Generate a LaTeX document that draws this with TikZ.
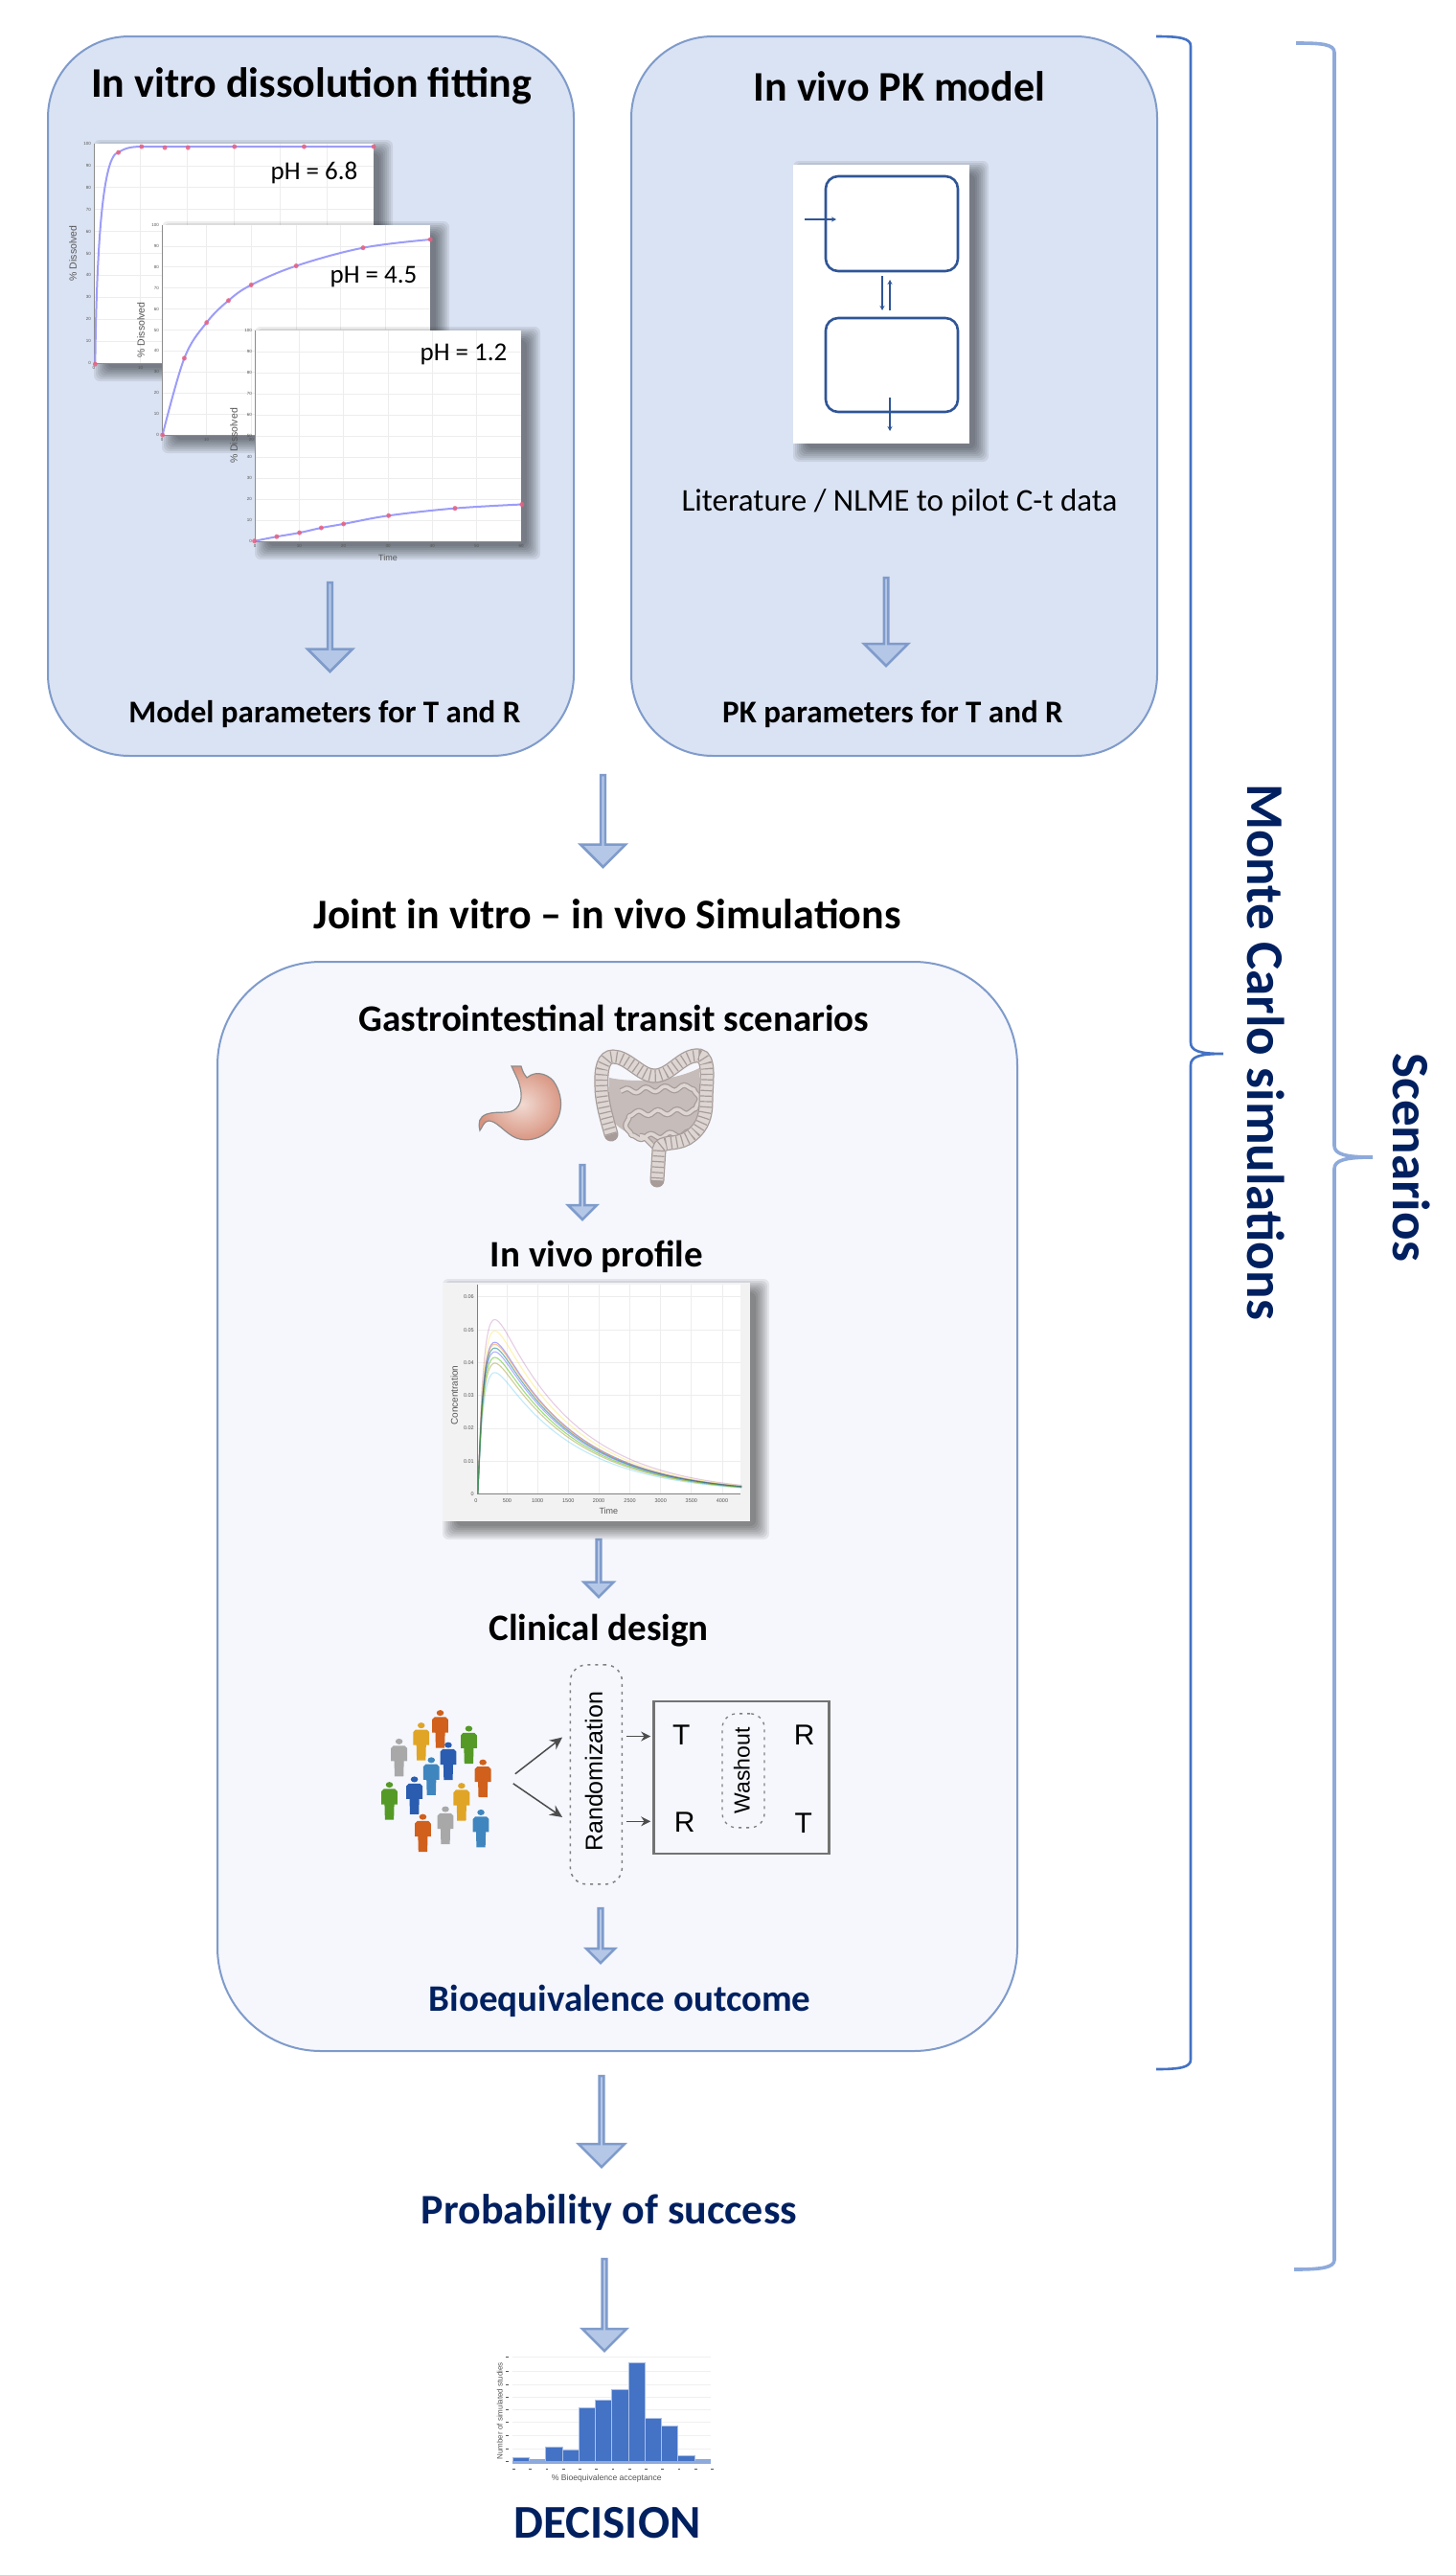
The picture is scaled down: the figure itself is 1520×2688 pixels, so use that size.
\documentclass[tikz,border=0pt]{standalone}
\usepackage{fontspec}
\setmainfont{Carlito}
\newfontfamily\arialf{Liberation Sans}
\usetikzlibrary{arrows.meta,shapes.arrows,calc,decorations.pathmorphing}
\definecolor{panelfill}{HTML}{DAE3F3}
\definecolor{panelline}{HTML}{7F9BCB}
\definecolor{paneltwo}{HTML}{F5F7FD}
\definecolor{navy}{HTML}{002060}
\definecolor{bracea}{HTML}{4472C4}
\definecolor{braceb}{HTML}{8EAADB}
\definecolor{arrowfill}{HTML}{B4C7E7}
\definecolor{arrowline}{HTML}{7F9BCB}
\definecolor{compline}{HTML}{2F5597}
\definecolor{curve}{HTML}{9C9CFA}
\definecolor{markr}{HTML}{E8607F}
\definecolor{gridc}{HTML}{EDEDED}
\definecolor{tickc}{HTML}{555555}
\definecolor{pgray}{HTML}{A8A8A8}
\definecolor{pyellow}{HTML}{E0A526}
\definecolor{porange}{HTML}{D0601C}
\definecolor{pgreen}{HTML}{559A26}
\definecolor{pblue}{HTML}{2A5DB0}
\definecolor{plblue}{HTML}{3F86BF}
\definecolor{histc}{HTML}{4472C4}
\definecolor{gutdark}{HTML}{A79C99}
\definecolor{gutmid}{HTML}{C6BCB9}
\definecolor{gutlight}{HTML}{DDD6D3}
\definecolor{stomachout}{HTML}{D8937F}
\definecolor{stomachin}{HTML}{F1DAD2}
\tikzset{
  panelbox/.style={draw=panelline,line width=2pt,fill=panelfill,rounded corners=85pt,inner sep=0pt},
  blockarrow/.style n args={3}{single arrow,draw=arrowline,line width=2.5pt,fill=arrowfill,rotate=-90,anchor=tip,
     inner sep=0pt,outer sep=0pt,minimum height=#1 pt,minimum width=#2 pt,single arrow head extend=#3 pt},
  ttl/.style={font=\bfseries\fontsize{#1}{#1}\selectfont,inner sep=0pt},
  reg/.style={font=\fontsize{#1}{#1}\selectfont,inner sep=0pt},
  ari/.style={font=\arialf\fontsize{#1}{#1}\selectfont,inner sep=0pt},
  tinyt/.style={font=\arialf\fontsize{#1}{#1}\selectfont,inner sep=0pt,text=tickc},
  comp/.style={draw=compline,line width=2.6pt,rounded corners=13pt,inner sep=0pt},
  thinarrow/.style={-{Stealth[length=5pt,width=5pt]},draw=compline,line width=1.1pt},
  blkarrow/.style={-{Stealth[length=13pt,width=12pt]},draw=black!70,line width=1.5pt},
  dashbox/.style={draw=black!50,line width=1.5pt,dash pattern=on 3pt off 5pt,rounded corners=17pt,inner sep=0pt},
  bracea path/.style={draw=bracea,line width=2.6pt},
  braceb path/.style={draw=braceb,line width=3.6pt},
}
% soft shadow of a box
\newcommand{\softshadow}[4]{%
  \foreach \sd in {0,2,...,14}{
    \fill[black,opacity=0.07,rounded corners=6pt] ({#1+14-\sd},{#2+10-\sd}) rectangle ({#3+6+\sd},{#4+5+\sd});
  }}
% person figure, in the units of the current scope
\newcommand{\person}[3]{%
  \begin{scope}[shift={(#1,#2)}]
    \fill[#3] (0,9) circle [radius=9];
    \fill[#3] (-14,22)--(14,22)--(20,30)--(20,70)--(12,70)--(11,118)--(-11,118)--(-12,70)--(-20,70)--(-20,30)--cycle;
  \end{scope}}
% dissolution chart: name, left, top, right, bottom, in reference pixels
\newcommand{\chartbase}[5]{%
  \softshadow{#2}{#3}{#4}{#5}
  \fill[white] (#2,#3) rectangle (#4,#5);
  \foreach \k in {1,...,9}{
    \draw[gridc,line width=.8pt] (#2,{#5-(#5-#3)*\k/10}) -- (#4,{#5-(#5-#3)*\k/10});
  }
  \foreach \k in {1,...,5}{
    \draw[gridc,line width=.8pt] ({#2+(#4-#2)*\k/6},#3) -- ({#2+(#4-#2)*\k/6},#5);
  }
  \draw[black!45,line width=.7pt] (#2,#3) -- (#2,#5) -- (#4,#5);
  \foreach \k [evaluate=\k as \v using int(10*\k)] in {0,...,10}{
    \node[tinyt=4.5,anchor=east] (#1y\k) at ({#2-3},{#5-(#5-#3)*\k/10}) {\v};
  }
  \foreach \k [evaluate=\k as \v using int(10*\k)] in {0,...,6}{
    \node[tinyt=4.5,anchor=north] (#1x\k) at ({#2+(#4-#2)*\k/6},{#5+3}) {\v};
  }
  \node[tinyt=10.5,rotate=90] (#1lab) at ({#2-22},{(#3+#5)/2}) {\% Dissolved};
}
\newcommand{\ptmarks}[1]{%
  \foreach \p in {#1}{\fill[markr,opacity=.85] \p circle [radius=5];}}
\begin{document}
\begin{tikzpicture}[x=1pt,y=-1pt,line cap=butt]
\useasboundingbox (0,0) rectangle (1520,2688);
\fill[white] (0,0) rectangle (1520,2688);

% ---- panels
\node[panelbox,minimum width=549pt,minimum height=751pt] (pvitro) at (324.5,413.5) {};
\node[panelbox,minimum width=549pt,minimum height=751pt] (pvivo) at (933.5,413.5) {};
\node[panelbox,fill=paneltwo,rounded corners=108pt,minimum width=835pt,minimum height=1137pt] (psim) at (644.5,1572.5) {};

% ---- titles
\node[ttl=44] (tvitro) at (325,90) {In vitro dissolution fitting};
\node[ttl=44] (tvivo) at (939,90) {In vivo PK model};
\node[ttl=33] (tmodel) at (339,746) {Model parameters for T and R};
\node[ttl=33] (tpk) at (932,746) {PK parameters for T and R};
\node[reg=33] (tlit) at (939,525) {Literature / NLME to pilot C-t data};

% ---- dissolution charts
\chartbase{ca}{98}{150}{390}{379}
\begin{scope}[x=.4847pt,y=-.5102pt]
  \draw[curve,line width=2pt] (205,745) .. controls (208,500) and (222,315) .. (255,312) .. controls (270,302) and (285,300) .. (305,300) -- (805,300);
  \ptmarks{(205,745),(255,312),(305,300),(355,302),(405,302),(505,300),(655,300),(805,300)}
\end{scope}
\node[reg=27] (pha) at (328,180) {pH = 6.8};
\chartbase{cb}{169}{235}{449}{454}
\begin{scope}[x=.4847pt,y=-.5102pt]
  \draw[curve,line width=2pt] plot[smooth,tension=.6] coordinates {(350,890)(397,733)(445,660)(492,615)(541,583)(638,544)(782,507)(927,490)};
  \ptmarks{(350,890),(397,733),(445,660),(492,615),(541,583),(638,544),(782,507),(927,490)}
\end{scope}
\node[reg=27] (phb) at (390,289) {pH = 4.5};
\chartbase{cc}{266}{345}{544}{565}
\begin{scope}[x=.4847pt,y=-.5102pt]
  \draw[curve,line width=2pt] plot[smooth,tension=.6] coordinates {(548,1107)(596,1098)(645,1090)(692,1080)(740,1072)(837,1055)(980,1040)(1124,1032)};
  \ptmarks{(548,1107),(596,1098),(645,1090),(692,1080),(740,1072),(837,1055),(980,1040),(1124,1032)}
\end{scope}
\node[reg=27] (phc) at (484,370) {pH = 1.2};
\node[tinyt=9] (ctime) at (405,582) {Time};

% ---- PK compartment card
\softshadow{828}{172}{1012}{463}
\fill[white] (828,172) rectangle (1012,463);
\node[comp,minimum width=138pt,minimum height=99pt] (compa) at (931,233.5) {};
\node[comp,minimum width=138pt,minimum height=98pt] (compb) at (931,381) {};
\coordinate (inA) at (840,229);
\coordinate (inB) at (873,229);
\coordinate (dnA) at (921,288);
\coordinate (dnB) at (921,324);
\coordinate (upA) at (929,324);
\coordinate (upB) at (929,292);
\coordinate (outA) at (929,415);
\coordinate (outB) at (929,450);
\draw[thinarrow] (inA) -- (inB);
\draw[thinarrow] (dnA) -- (dnB);
\draw[thinarrow] (upA) -- (upB);
\draw[thinarrow] (outA) -- (outB);

% ---- block arrows
\node[blockarrow={93}{47}{11}] (aa) at (344.5,701) {};
\node[blockarrow={92}{46}{11.5}] (ab) at (925,695) {};
\node[blockarrow={96}{47}{11}] (ac) at (629.5,905) {};
\node[blockarrow={57}{30}{7}] (ad) at (608,1273) {};
\node[blockarrow={60}{31}{7}] (ae) at (625,1667) {};
\node[blockarrow={57}{30}{7}] (af) at (627,2049) {};
\node[blockarrow={95}{48}{11.5}] (ag) at (628,2262) {};
\node[blockarrow={96}{46}{11}] (ah) at (631,2454) {};

% ---- middle titles
\node[ttl=44] (tjoint) at (634,954) {Joint in vitro – in vivo Simulations};
\node[ttl=39] (tgi) at (641,1063) {Gastrointestinal transit scenarios};
\node[ttl=39] (tprof) at (623,1312) {In vivo profile};
\node[ttl=39] (tclin) at (625,1702) {Clinical design};
\node[ttl=39,text=navy] (tbe) at (647,2089) {Bioequivalence outcome};
\node[ttl=44,text=navy] (tpos) at (636,2309) {Probability of success};
\node[ttl=49,text=navy] (tdec) at (634,2634) {DECISION};

% ---- stomach
\shade[inner color=stomachin,outer color=stomachout,draw=black!45,line width=1.2pt]
  (534,1113) -- (544,1113) .. controls (546,1119) and (547,1122) .. (550,1125)
  .. controls (560,1116) and (575,1122) .. (580,1132) .. controls (590,1150) and (586,1170) .. (571,1182)
  .. controls (560,1191) and (545,1192) .. (535,1186) .. controls (525,1180) and (518,1170) .. (510,1170)
  .. controls (505,1170) and (503,1178) .. (501,1180) .. controls (499,1172) and (500,1166) .. (508,1163)
  .. controls (520,1159) and (532,1164) .. (539,1157) .. controls (546,1150) and (545,1140) .. (541,1128) -- cycle;

% ---- intestine
\def\colonpath{(638,1184) .. controls (634,1170) and (628,1150) .. (628,1135) .. controls (627,1115) and (630,1103) .. (640,1103)
   .. controls (655,1103) and (668,1122) .. (682,1123) .. controls (700,1124) and (712,1100) .. (730,1102)
   .. controls (742,1104) and (737,1130) .. (737,1150) .. controls (737,1170) and (730,1180) .. (718,1188)
   .. controls (705,1196) and (690,1190) .. (688,1200) -- (686,1232)}
\fill[gutmid] (636,1125) .. controls (660,1130) and (700,1130) .. (730,1115) -- (730,1170) .. controls (715,1190) and (695,1195) .. (680,1192) .. controls (660,1185) and (645,1180) .. (636,1165) -- cycle;
\foreach \w/\c in {6/gutdark,3.5/gutlight}{
  \draw[\c,line width=\w pt,line join=round,decorate,decoration={snake,segment length=20pt,amplitude=2.5pt}]
     (648,1139) -- (720,1135) -- (722,1152) -- (650,1155) -- (652,1172) -- (712,1168) -- (708,1183) -- (668,1186);
}
\draw[gutdark,line width=15pt,line cap=round] \colonpath;
\draw[gutlight,line width=12.5pt] \colonpath;
\draw[gutdark,line width=12pt,dash pattern=on 1.2pt off 4.5pt] \colonpath;

% ---- in vivo profile chart
\softshadow{462}{1339}{783}{1588}
\fill[black!5] (462,1339) rectangle (783,1588);
\fill[white] (499,1341) rectangle (773,1559);
\begin{scope}[shift={(340,1000)},x=.3826pt,y=-.3953pt]
  \foreach \k in {895,982,1068,1155,1242,1329}{
    \draw[gridc,line width=.7pt] (415,\k) -- (1132,\k);
  }
  \foreach \k in {495,578,662,745,830,914,998,1082}{
    \draw[gridc,line width=.7pt] (\k,862) -- (\k,1415);
  }
  \foreach \k/\col/\op in {460/violet/.2,430/yellow!80!orange/.3,400/blue!60!white/.55,395/orange/.45,385/teal/.55,375/blue/.3,360/green!50!olive/.5,345/olive/.4,320/cyan/.25}{
    \draw[\col,opacity=\op,line width=1.1pt] plot[domain=0:720,samples=70,smooth] ({415+\x},{1415-\k/0.746*(exp(-0.0046*\x)-exp(-0.06*\x))});
  }
  \draw[black!50,line width=.6pt] (415,862) -- (415,1415) -- (1132,1415);
  \foreach \k/\v in {895/0.06,982/0.05,1068/0.04,1155/0.03,1242/0.02,1329/0.01,1415/0}{
    \node[tinyt=5.5,anchor=east] (py\k) at (405,\k) {\v};
  }
  \foreach \k/\v in {410/0,495/500,578/1000,662/1500,745/2000,830/2500,914/3000,998/3500,1082/4000}{
    \node[tinyt=5.5] (px\k) at (\k,1434) {\v};
  }
  \node[tinyt=10,rotate=90] (plab) at (351,1155) {Concentration};
  \node[tinyt=9] (ptime) at (772,1460) {Time};
\end{scope}

% ---- clinical design
\begin{scope}[shift={(340,1640)},x=.4209pt,y=-.335pt]
  \person{182}{522}{pgray}
  \person{237}{472}{pyellow}
  \person{284}{433}{porange}
  \person{355}{482}{pgreen}
  \person{304}{533}{pblue}
  \person{262}{580}{plblue}
  \person{390}{587}{porange}
  \person{158}{657}{pgreen}
  \person{220}{640}{pblue}
  \person{337}{660}{pyellow}
  \person{241}{757}{porange}
  \person{297}{733}{pgray}
  \person{385}{743}{plblue}
  \coordinate (crowdA) at (470,632);
  \coordinate (crowdB) at (465,662);
  \coordinate (randA) at (587,518);
  \coordinate (randB) at (587,767);
  \coordinate (randC) at (745,515);
  \coordinate (randD) at (745,780);
  \coordinate (boxA) at (806,515);
  \coordinate (boxB) at (806,780);
  \node[dashbox,minimum width=54pt,minimum height=229pt] (randbox) at (671,634) {};
  \node[ari=25,rotate=90] (trand) at (665,625) {Randomization};
  \node[draw=black!55,line width=2.5pt,minimum width=183pt,minimum height=159pt,inner sep=0pt] (seqbox) at (1031.5,643) {};
  \node[ari=30] (ta) at (882,512) {T};
  \node[ari=30] (ra) at (1187,512) {R};
  \node[ari=30] (rb) at (890,782) {R};
  \node[ari=30] (tb) at (1185,787) {T};
  \node[dashbox,rounded corners=15pt,line width=1.3pt,minimum width=44pt,minimum height=119pt] (washbox) at (1036,622) {};
  \node[ari=23,rotate=90] (twash) at (1032,622) {Washout};
  \draw[blkarrow] (crowdA) -- (randA);
  \draw[blkarrow] (crowdB) -- (randB);
  \draw[blkarrow,-{Stealth[length=10pt,width=10pt]}] (randC) -- (boxA);
  \draw[blkarrow,-{Stealth[length=10pt,width=10pt]}] (randD) -- (boxB);
\end{scope}

% ---- histogram
\begin{scope}[shift={(400,2300)},x=.3333pt,y=-.3333pt]
  \foreach \k in {480,525,567,607,645,685,728,770}{
    \draw[black!6,line width=.8pt] (405,\k) -- (1027,\k);
    \draw[tickc,line width=1pt] (384,\k) -- (394,\k);
  }
  \draw[tickc,line width=1pt] (384,808) -- (394,808);
  \fill[braceb] (405,800) rectangle (1027,815);
  \foreach \a/\b/\t in {405/457/795,509/561/762,561/612/773,612/664/640,664/716/617,716/768/583,768/820/500,820/871/673,871/923/698,923/975/790}{
    \fill[histc] (\a,\t) rectangle (\b,808);
    \draw[white!55!histc,line width=.8pt] (\a,808) -- (\a,\t) -- (\b,\t) -- (\b,808);
  }
  \foreach \k in {405,457,509,561,612,664,716,768,820,871,923,975,1027}{
    \draw[tickc,line width=1pt] (\k,832) -- (\k+8,832);
  }
  \node[tinyt=8,rotate=90] (hy) at (365,650) {Number of simulated studies};
  \node[tinyt=8.6] (hx) at (700,862) {\% Bioequivalence acceptance};
\end{scope}

% ---- braces
\coordinate (bmA) at (1207,38);
\coordinate (bmB) at (1207,2160);
\coordinate (bmT) at (1277,1100);
\draw[bracea path] (bmA) .. controls (1232,38) and (1243,40) .. (1243,48) -- (1243,1088)
  .. controls (1243,1097) and (1252,1100) .. (bmT) .. controls (1252,1100) and (1243,1103) .. (1243,1112)
  -- (1243,2150) .. controls (1243,2158) and (1232,2160) .. (bmB);
\coordinate (bsA) at (1353,45);
\coordinate (bsB) at (1351,2369);
\coordinate (bsT) at (1433,1208);
\draw[braceb path] (bsA) .. controls (1380,45) and (1393,46) .. (1393,55) -- (1393,1196)
  .. controls (1393,1205) and (1405,1208) .. (bsT) .. controls (1405,1208) and (1393,1211) .. (1393,1220)
  -- (1393,2359) .. controls (1393,2367) and (1380,2369) .. (bsB);
\node[ttl=55,text=navy,rotate=-90] (tmc) at (1322,1098) {Monte Carlo simulations};
\node[ttl=55,text=navy,rotate=-90] (tsc) at (1474,1208) {Scenarios};
\end{tikzpicture}
\end{document}
